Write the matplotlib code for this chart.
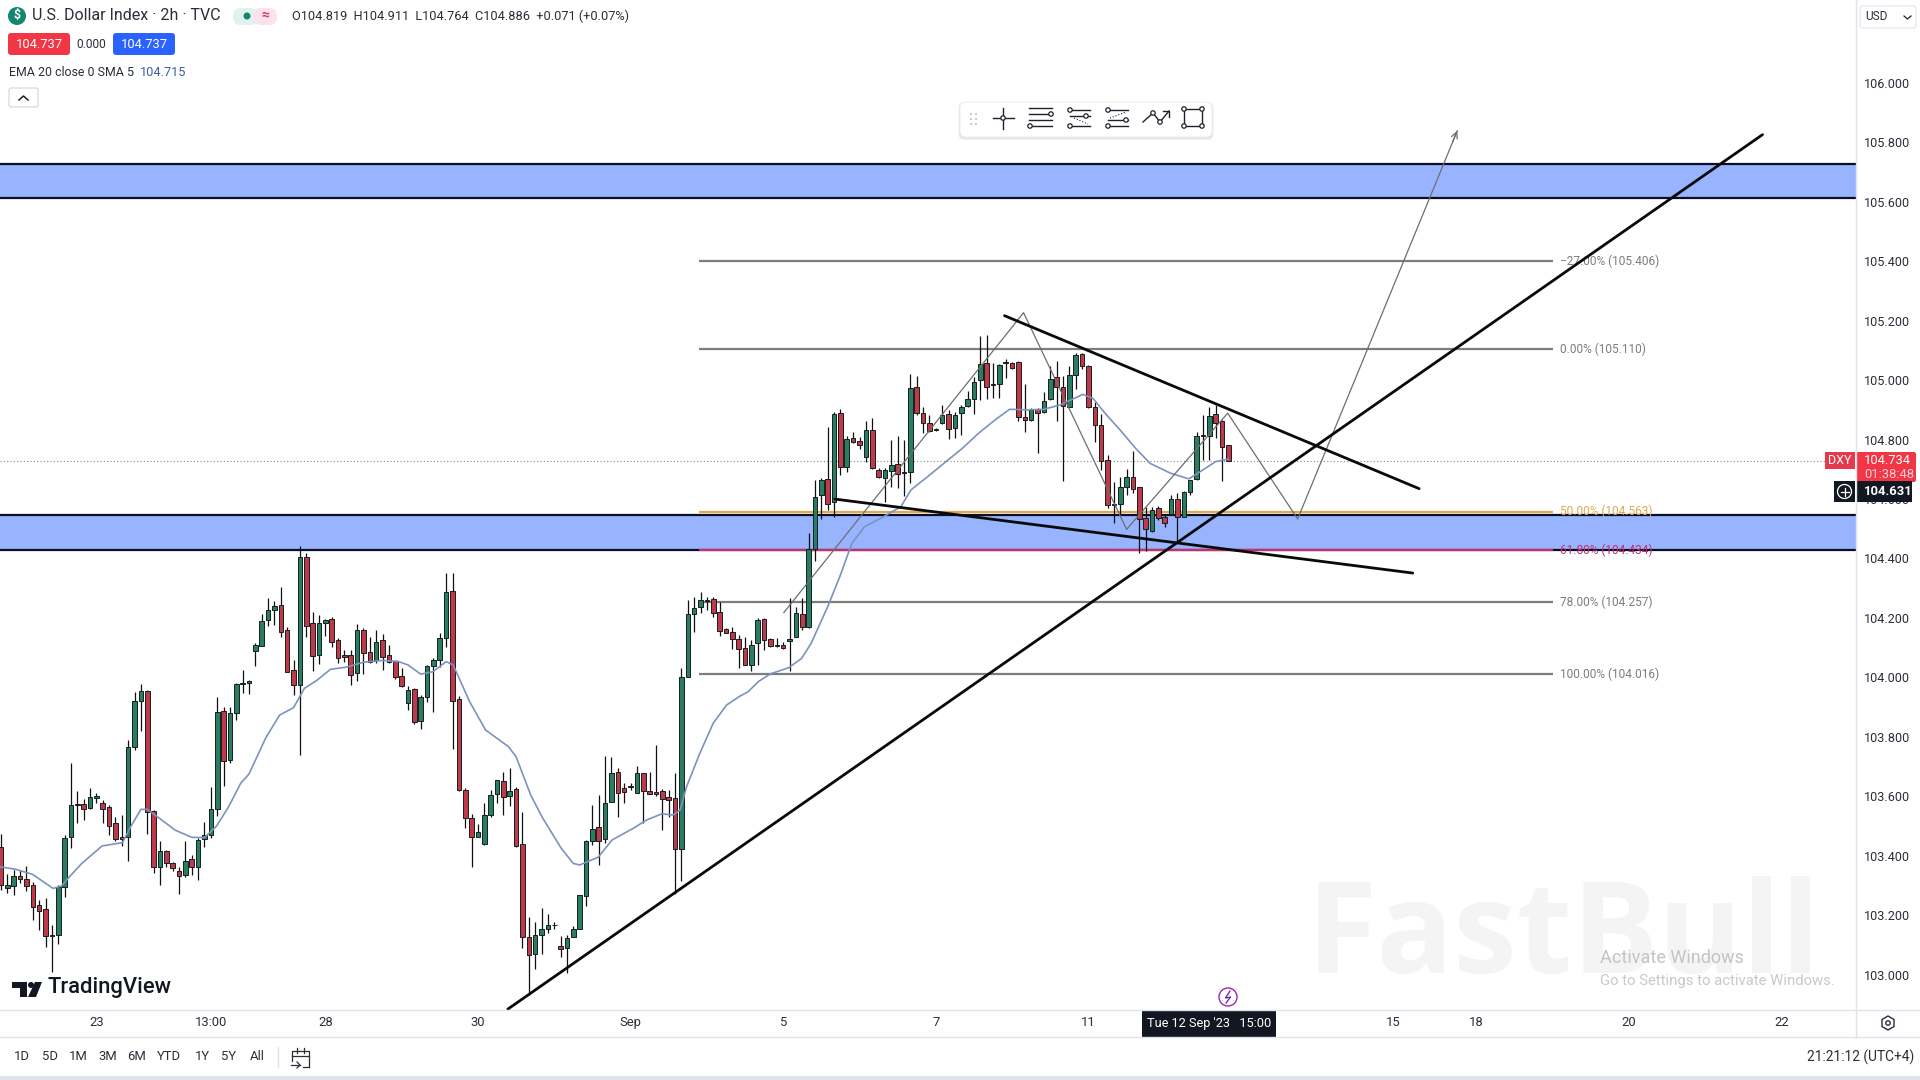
import matplotlib
matplotlib.use("Agg")
import matplotlib.pyplot as plt
from matplotlib.patches import Rectangle, FancyBboxPatch, Circle, Polygon, FancyArrowPatch

plt.rcParams['font.family'] = ['Roboto', 'DejaVu Sans']

high = [103.478,103.343,103.357,103.357,103.370,103.318,103.256,103.262,103.172,103.307,
103.475,103.718,103.624,103.595,103.632,103.617,103.592,103.576,103.534,103.542,
103.794,103.955,103.983,103.963,103.559,103.453,103.424,103.385,103.368,103.453,
103.407,103.464,103.520,103.637,103.938,103.904,103.906,103.985,104.030,103.996,
104.120,104.218,104.271,104.262,104.310,104.176,104.064,104.447,104.422,104.224,
104.215,104.203,104.209,104.136,104.097,104.097,104.185,104.170,104.142,104.164,
104.151,104.114,104.064,104.035,103.977,103.968,103.946,104.047,104.069,104.153,
104.357,104.357,103.944,103.632,103.545,103.512,103.581,103.626,103.660,103.686,
103.699,103.637,103.553,103.200,103.183,103.228,103.209,103.183,103.135,103.138,
103.169,103.273,103.458,103.576,103.609,103.741,103.736,103.699,103.649,103.649,
103.707,103.684,103.687,103.778,103.628,103.626,103.684,104.037,104.265,104.277,
104.291,104.277,104.277,104.260,104.170,104.176,104.148,104.142,104.131,104.204,
104.204,104.137,104.137,104.125,104.273,104.243,104.271,104.490,104.669,104.675,
104.849,104.899,104.907,104.817,104.830,104.815,104.866,104.879,104.708,104.708,
104.804,104.817,104.804,105.026,105.019,104.914,104.888,104.843,104.922,104.905,
104.899,104.922,104.970,105.017,105.152,105.157,105.062,105.060,105.075,105.067,
105.071,104.992,104.910,104.913,104.966,105.053,105.070,105.019,105.054,105.095,
105.095,105.056,104.933,104.890,104.753,104.664,104.680,104.705,104.767,104.647,
104.579,104.579,104.582,104.551,104.619,104.624,104.632,104.669,104.829,104.888,
104.916,104.922,104.871,104.787]

low = [103.290,103.281,103.273,103.312,103.286,103.189,103.155,103.099,103.015,103.108,
103.267,103.431,103.516,103.525,103.561,103.581,103.516,103.475,103.456,103.438,
103.388,103.761,103.826,103.478,103.346,103.307,103.368,103.355,103.276,103.334,
103.340,103.323,103.435,103.464,103.539,103.640,103.718,103.862,103.951,103.949,
104.043,104.111,104.178,104.181,104.142,104.024,103.946,103.744,104.140,104.028,
104.050,104.144,104.106,104.055,104.058,103.979,103.993,104.016,104.055,104.055,
104.030,104.055,103.998,103.974,103.895,103.848,103.831,103.923,103.890,104.041,
104.108,103.763,103.624,103.497,103.368,103.469,103.441,103.534,103.581,103.542,
103.572,103.435,103.093,102.936,103.023,103.074,103.144,103.157,103.065,103.011,
103.130,103.157,103.236,103.441,103.374,103.449,103.586,103.534,103.581,103.626,
103.617,103.516,103.613,103.607,103.492,103.537,103.276,103.321,104.005,104.159,
104.221,104.232,104.209,104.145,104.153,104.100,104.036,104.048,104.028,104.047,
104.097,104.108,104.108,104.100,104.028,104.140,104.165,104.170,104.397,104.537,
104.568,104.546,104.686,104.697,104.795,104.772,104.728,104.705,104.675,104.596,
104.647,104.641,104.615,104.660,104.888,104.826,104.830,104.835,104.858,104.807,
104.809,104.821,104.916,104.891,104.938,104.941,104.944,104.944,105.011,105.043,
104.866,104.832,104.869,104.761,104.894,104.938,104.869,104.667,104.914,104.974,
105.042,104.910,104.798,104.703,104.574,104.526,104.551,104.619,104.627,104.422,
104.431,104.495,104.535,104.510,104.551,104.462,104.544,104.619,104.669,104.737,
104.737,104.809,104.667,104.734]

open_ = [103.433,103.297,103.304,103.338,103.326,103.307,103.238,103.226,103.140,103.139,
103.301,103.469,103.576,103.578,103.566,103.600,103.581,103.568,103.514,103.467,
103.469,103.772,103.927,103.958,103.554,103.368,103.420,103.379,103.355,103.341,
103.393,103.368,103.460,103.475,103.563,103.891,103.727,103.884,103.984,103.987,
104.095,104.112,104.197,104.233,104.248,104.163,104.029,103.978,104.409,104.187,
104.081,104.187,104.200,104.130,104.079,104.079,104.019,104.163,104.089,104.064,
104.130,104.079,104.059,104.009,103.920,103.965,103.859,103.940,104.044,104.065,
104.139,104.295,103.931,103.627,103.533,103.469,103.443,103.542,103.613,103.658,
103.606,103.628,103.443,103.130,103.075,103.139,103.160,103.171,103.103,103.093,
103.133,103.160,103.271,103.456,103.500,103.460,103.587,103.688,103.632,103.636,
103.617,103.682,103.622,103.618,103.623,103.603,103.599,103.429,104.005,104.219,
104.241,104.263,104.268,104.224,104.167,104.157,104.133,104.103,104.048,104.120,
104.200,104.133,104.114,104.115,104.126,104.140,104.218,104.176,104.438,104.617,
104.671,104.594,104.894,104.714,104.809,104.802,104.748,104.836,104.704,104.677,
104.701,104.722,104.696,104.697,104.981,104.896,104.860,104.840,104.862,104.890,
104.844,104.894,104.918,104.943,105.005,105.062,104.991,104.993,105.065,105.064,
105.065,104.882,104.872,104.907,104.897,104.941,105.015,104.983,104.916,105.024,
105.093,105.054,104.914,104.855,104.735,104.589,104.587,104.645,104.680,104.646,
104.540,104.499,104.574,104.546,104.555,104.604,104.546,104.630,104.671,104.821,
104.818,104.890,104.867,104.786]

close = [103.307,103.307,103.337,103.326,103.304,103.234,103.220,103.136,103.136,103.301,
103.465,103.576,103.579,103.563,103.601,103.605,103.563,103.506,103.460,103.462,
103.770,103.924,103.958,103.553,103.366,103.420,103.379,103.365,103.338,103.388,
103.368,103.458,103.476,103.561,103.889,103.725,103.884,103.983,103.987,103.994,
104.113,104.194,104.231,104.244,104.159,104.024,103.978,104.409,104.179,104.078,
104.187,104.199,104.125,104.071,104.075,104.014,104.163,104.086,104.058,104.123,
104.075,104.058,104.007,103.977,103.961,103.856,103.940,104.043,104.062,104.138,
104.292,103.927,103.626,103.531,103.467,103.484,103.541,103.608,103.659,103.604,
103.624,103.439,103.130,103.072,103.137,103.157,103.171,103.173,103.092,103.129,
103.160,103.272,103.453,103.496,103.456,103.583,103.682,103.617,103.621,103.639,
103.682,103.624,103.613,103.614,103.597,103.594,103.427,104.005,104.217,104.237,
104.264,104.267,104.223,104.162,104.156,104.133,104.100,104.048,104.115,104.198,
104.131,104.112,104.111,104.103,104.135,104.221,104.176,104.438,104.613,104.668,
104.589,104.890,104.712,104.806,104.798,104.788,104.836,104.708,104.678,104.702,
104.719,104.688,104.694,104.978,104.894,104.860,104.835,104.836,104.889,104.842,
104.889,104.914,104.943,104.998,105.058,104.983,104.988,105.057,105.062,105.047,
104.880,104.870,104.905,104.894,104.936,105.010,104.983,104.918,105.021,105.090,
105.054,104.914,104.853,104.734,104.584,104.585,104.645,104.678,104.640,104.538,
104.503,104.568,104.540,104.523,104.604,104.544,104.628,104.668,104.817,104.816,
104.886,104.862,104.781,104.734]

ema_x = [-0.16,2.4,5,6.9,8.2,9.5,10.8,12.7,15.9,19.1,20.4,22,23,24.6,27.4,30,32,33.9,35.8,37.7,39,41.6,43.8,46,47.7,49.6,51.8,54.4,57,59.9,62.4,64,66,67.9,70,71.1,73.7,76.2,79.8,81,83.3,85.2,88.1,90,91,93.9,96.1,99.4,101.5,103.9,105.7,106.8,107.8,109.9,112,114.1,116.2,117.5,119.1,121,123.9,125.9,127.4,130,131.9,133.8,135.8,138.3,141.5,143.1,145.4,148.6,151.2,153.7,156.3,158.6,161.5,164,166.6,168.5,170.1,171.7,173.6,176.2,178.4,180.7,183.9,186.8,189,191,193]
ema_y = [103.368,103.359,103.342,103.314,103.295,103.303,103.335,103.379,103.438,103.449,103.503,103.561,103.561,103.536,103.491,103.467,103.466,103.505,103.570,103.649,103.680,103.800,103.878,103.903,103.968,103.994,104.032,104.040,104.056,104.062,104.059,104.047,104.016,104.024,104.058,104.047,103.923,103.828,103.772,103.738,103.609,103.531,103.430,103.379,103.374,103.400,103.458,103.497,103.525,103.546,103.542,103.559,103.637,103.750,103.851,103.912,103.942,103.957,103.991,104.017,104.038,104.069,104.120,104.243,104.344,104.456,104.512,104.540,104.579,104.636,104.675,104.731,104.776,104.826,104.871,104.907,104.905,104.907,104.922,104.941,104.957,104.944,104.894,104.832,104.776,104.725,104.692,104.673,104.703,104.731,104.739]

zones = [(105.6164, 105.7325), (104.4337, 104.5515)]
fib_levels = [105.406, 105.110, 104.563, 104.434, 104.257, 104.016]
fib_labels = ['−27.00% (105.406)', '0.00% (105.110)', '50.00% (104.563)', '61.80% (104.434)', '78.00% (104.257)', '100.00% (104.016)']
fib_colors = ['#7d7d7d', '#7d7d7d', '#e2a94c', '#c4306f', '#7d7d7d', '#7d7d7d']
fib_start, fib_end = 109.7, 244.0

trend_x = [[79.7, 277.0], [157.8, 223.0], [131.1, 222.0]]
trend_y = [[102.889, 105.831], [105.222, 104.640], [104.605, 104.356]]
path_x = [123.1, 160.8, 177.0, 192.9, 203.9, 229.0]
path_y = [104.223, 105.232, 104.503, 104.894, 104.538, 105.844]
last_price = 104.734

y_ticks = [103.0 + 0.2 * i for i in range(16)]
x_tick_pos = [15, 33, 51, 75, 99, 123, 147, 171, 219, 232, 256, 280]
x_tick_lab = ['23', '13:00', '28', '30', 'Sep', '5', '7', '11', '15', '18', '20', '22']
ranges = ['1D', '5D', '1M', '3M', '6M', 'YTD', '1Y', '5Y', 'All']
range_x = [22, 50, 78, 108, 137, 169, 202, 229, 257]

W, H = 1920, 1080
TXT = '#2a2e39'
GREEN, RED = '#2a7d63', '#c0394b'
fig = plt.figure(figsize=(19.2, 10.8), dpi=100, facecolor='white')
ax = fig.add_axes([0, 70 / H, 1856 / W, 1010 / H], facecolor='white', zorder=1)
ax.set_xlim(-0.157, 291.7)
ax.set_ylim(102.886, 106.284)
for s in ax.spines.values():
    s.set_visible(False)
ax.yaxis.tick_right()
ax.set_yticks(y_ticks)
ax.set_yticklabels([f'{v:.3f}' for v in y_ticks], fontsize=9.1, color=TXT)
ax.set_xticks(x_tick_pos)
ax.set_xticklabels(x_tick_lab, fontsize=9.4, color=TXT)
ax.tick_params(axis='both', length=0)
ax.tick_params(axis='y', pad=6)
ax.tick_params(axis='x', pad=4.6)
for lab in ax.get_yticklabels():
    lab.set_y(lab.get_position()[1])
    lab.set_verticalalignment('center')

for lo, hi in zones:
    ax.axhspan(lo, hi, facecolor='#98b4ff', edgecolor='none', zorder=1)
    ax.axhline(lo, color='#0b0e24', lw=1.6, zorder=1.4)
    ax.axhline(hi, color='#0b0e24', lw=1.6, zorder=1.4)
for lv, lab, c in zip(fib_levels, fib_labels, fib_colors):
    ax.plot([fib_start, fib_end], [lv, lv], color=c, lw=1.6, zorder=1.5, solid_capstyle='butt')
    ax.text(fib_end + 1.2, lv, lab, color=c, fontsize=8.6, va='center', ha='left', zorder=1.5)
ax.axhline(last_price, color='#8a8a8a', lw=0.8, ls=(0, (1, 2)), zorder=1.6)

xs = list(range(len(close)))
ax.vlines(xs, low, high, color='#101010', lw=0.9, zorder=2)
for i in xs:
    col = GREEN if close[i] >= open_[i] else RED
    ax.bar(i, abs(close[i] - open_[i]), bottom=min(open_[i], close[i]), width=0.72,
           color=col, edgecolor='#15201c', linewidth=0.7, zorder=3)
ax.plot(ema_x, ema_y, color='#7b93bd', lw=1.2, zorder=4)

ax.plot(path_x, path_y, color='#6e6e6e', lw=0.9, zorder=5)
head_from = (path_x[-1] - 0.03 * (path_x[-1] - path_x[-2]), path_y[-1] - 0.03 * (path_y[-1] - path_y[-2]))
ax.add_patch(FancyArrowPatch(head_from, (path_x[-1], path_y[-1]), arrowstyle='->',
                             mutation_scale=11, color='#6e6e6e', lw=0.9, zorder=5, shrinkA=0, shrinkB=0))
for tx, ty in zip(trend_x, trend_y):
    ax.plot(tx, ty, color='#0a0a0a', lw=2.0, zorder=6, solid_capstyle='round')

ui = fig.add_axes([0, 0, 1, 1], facecolor='none', zorder=2)
ui.set_xlim(0, W)
ui.set_ylim(H, 0)
ui.axis('off')

def T(x, y, s, size=9.4, color=TXT, ha='left', va='center', **k):
    return ui.text(x, y, s, fontsize=size, color=color, ha=ha, va=va, **k)

def box(x0, y0, x1, y1, fc, r=3, ec='none', lw=0, z=3):
    p = FancyBboxPatch((x0 + r, y0 + r), x1 - x0 - 2 * r, y1 - y0 - 2 * r, boxstyle=f'round,pad={r},rounding_size={r}',
                       fc=fc, ec=ec, lw=lw, zorder=z)
    ui.add_patch(p)

def L(xs_, ys_, c='#1e222d', lw=1.0, z=8, **k):
    ui.plot(xs_, ys_, color=c, lw=lw, zorder=z, **k)

# chrome
L([1856, 1856], [0, 1037], '#e0e3eb', 1)
L([0, 1920], [1010, 1010], '#e0e3eb', 1)
L([0, 1920], [1037, 1037], '#e0e3eb', 1)
ui.add_patch(Rectangle((0, 1076), W, 4, fc='#e0e3eb', ec='none'))

# watermark
T(1306, 940, 'FastBull', size=92, color='#f4f4f4', fontweight='bold', family='Open Sans', zorder=1)
T(1600, 958, 'Activate Windows', size=13, color='#c4c4c4')
T(1600, 981, 'Go to Settings to activate Windows.', size=10.7, color='#c9c9c9')

# header
ui.add_patch(Circle((17, 16), 9, fc='#14866b', ec='none', zorder=4))
T(17, 16, '$', size=9, color='white', ha='center', fontweight='bold', zorder=5)
T(32, 16, 'U.S. Dollar Index · 2h · TVC', size=11.5)
box(233, 8, 258, 25, '#e0f2ee', r=8)
box(253, 8, 277, 25, '#fbe3ea', r=8)
ui.add_patch(Circle((247, 16), 3.5, fc='#14866b', ec='none', zorder=5))
T(265, 16, '≈', size=10, color='#d8336b', ha='center', fontweight='bold', zorder=5)
T(292, 16, 'O104.819  H104.911  L104.764  C104.886  +0.071 (+0.07%)', size=9.2)
box(8, 33, 70, 55, '#f23645', r=3)
T(39, 44, '104.737', size=9.4, color='white', ha='center', zorder=5)
T(91, 44, '0.000', size=8.6, ha='center')
box(113, 33, 175, 55, '#2962ff', r=3)
T(144, 44, '104.737', size=9.4, color='white', ha='center', zorder=5)
T(9, 72, 'EMA 20 close 0 SMA 5', size=8.9)
T(140, 72, '104.715', size=9.2, color='#3f5f9f')
box(9, 88, 38, 107, 'white', r=2, ec='#d1d4dc', lw=0.8)
L([19, 23.5, 28], [100, 96, 100], '#1e222d', 1.1)

# USD selector
box(1860, 6, 1916, 28, 'white', r=3, ec='#e0e3eb', lw=0.8)
T(1865, 17, 'USD', size=8.6)
L([1904, 1907.5, 1911], [16, 19, 16], '#1e222d', 0.9)

# price tags
ui.add_patch(Rectangle((1825, 452), 30, 17, fc='#e53a4d', ec='none', zorder=6))
T(1840, 461, 'DXY', size=9, color='white', ha='center', zorder=7)
box(1856, 452, 1916, 482, '#f23645', r=2, z=6)
T(1864, 461, '104.734', size=9.4, color='white', zorder=7)
T(1864, 475, '01:38:48', size=9.4, color='#ffd0d5', zorder=7)
ui.add_patch(Rectangle((1834, 481), 21, 21, fc='#131722', ec='none', zorder=7))
ui.add_patch(Rectangle((1856, 481), 56, 21, fc='#131722', ec='none', zorder=7))
ui.add_patch(Circle((1844.5, 491.5), 7, fc='none', ec='white', lw=0.9, zorder=8))
L([1840.5, 1848.5], [491.5, 491.5], 'white', 0.9, z=9)
L([1844.5, 1844.5], [487.5, 495.5], 'white', 0.9, z=9)
T(1864, 491.5, '104.631', size=9.4, color='white', fontweight='bold', zorder=9)

# toolbar
for off, a in ((3, '#efefef'), (1.5, '#e0e0e0')):
    box(960 - off / 2, 102, 1212 + off / 2, 137 + off, a, r=6, z=6)
box(960, 102, 1212, 137, 'white', r=6, ec='#f0f0f0', lw=0.8, z=7)
for gx in (970, 975):
    for gy in (113, 118, 123):
        ui.add_patch(Rectangle((gx, gy), 1.8, 1.8, fc='#c9ccd4', ec='none', zorder=8))
cy = 118
L([993, 1014], [cy, cy]); L([1003, 1003], [108, 129])
def dot(x, y, r=2.2):
    ui.add_patch(Circle((x, y), r, fc='white', ec='#1e222d', lw=0.9, zorder=9))
dot(1003, cy)
for yy in (108, 114, 120, 126):
    L([1029, 1052], [yy, yy])
dot(1051, 114); dot(1030, 126)
for yy in (110, 116, 126):
    L([1070, 1090], [yy, yy])
L([1074, 1088], [118, 124], '#1e222d', 0.8, ls=':')
dot(1070, 110); dot(1086, 116); dot(1070, 126)
for yy in (110, 120, 126):
    L([1108, 1128], [yy, yy])
L([1110, 1126], [118, 112], '#1e222d', 0.8, ls=':')
dot(1108, 110); dot(1126, 120); dot(1108, 126)
L([1143, 1153, 1160, 1169], [122, 113, 122, 111]); dot(1153, 113); dot(1160, 122)
L([1163, 1169, 1169], [111, 111, 117])
ui.add_patch(Rectangle((1184, 109), 18, 17, fc='none', ec='#1e222d', lw=1.0, zorder=8))
for px_ in (1184, 1202):
    for py_ in (109, 126):
        dot(px_, py_)

# logo
ui.add_patch(Polygon([(12, 982), (27, 982), (27, 997), (20, 997), (20, 988), (12, 988)], fc='#131722', ec='none', zorder=4))
ui.add_patch(Circle((31, 985), 3, fc='#131722', ec='none', zorder=4))
ui.add_patch(Polygon([(35, 982), (42, 982), (36, 997), (28, 997)], fc='#131722', ec='none', zorder=4))
T(48, 988, 'TradingView', size=15.8, color='#131722', fontweight='medium', zorder=4)

# lightning icon
ui.add_patch(Circle((1228, 997), 9, fc='white', ec='#9c27b0', lw=1.0, zorder=4))
L([1230, 1225.5, 1230.5, 1226], [991, 998, 997, 1003], '#6a1b9a', 0.9)

# crosshair time
ui.add_patch(Rectangle((1142, 1010), 134, 27, fc='#131722', ec='none', zorder=6))
T(1209, 1023.5, "Tue 12 Sep '23   15:00", size=9.2, color='white', ha='center', zorder=7)

# gear
ui.add_patch(Polygon([(1888, 1016), (1894, 1019.5), (1894, 1026.5), (1888, 1030), (1882, 1026.5), (1882, 1019.5)],
                     fc='none', ec='#2a2e39', lw=1, zorder=5))
ui.add_patch(Circle((1888, 1023), 2.2, fc='none', ec='#2a2e39', lw=1, zorder=5))

# bottom bar
for x_, s_ in zip(range_x, ranges):
    T(x_, 1057, s_, size=9.4, ha='center')
L([278, 278], [1047, 1067], '#e0e3eb', 1)
L([292, 292, 309, 309], [1061, 1051, 1051, 1067], '#2a2e39', 0.9)
L([303, 309], [1067, 1067], '#2a2e39', 0.9)
L([292, 309], [1056, 1056], '#2a2e39', 0.9)
L([297, 297], [1048, 1053], '#2a2e39', 0.9)
L([304, 304], [1048, 1053], '#2a2e39', 0.9)
L([291, 300], [1065, 1065], '#2a2e39', 0.9)
L([297, 300, 297], [1062, 1065, 1068], '#2a2e39', 0.9)
T(1914, 1057, '21:21:12 (UTC+4)', size=9.9, ha='right')

fig.savefig('out.png', dpi=100)
